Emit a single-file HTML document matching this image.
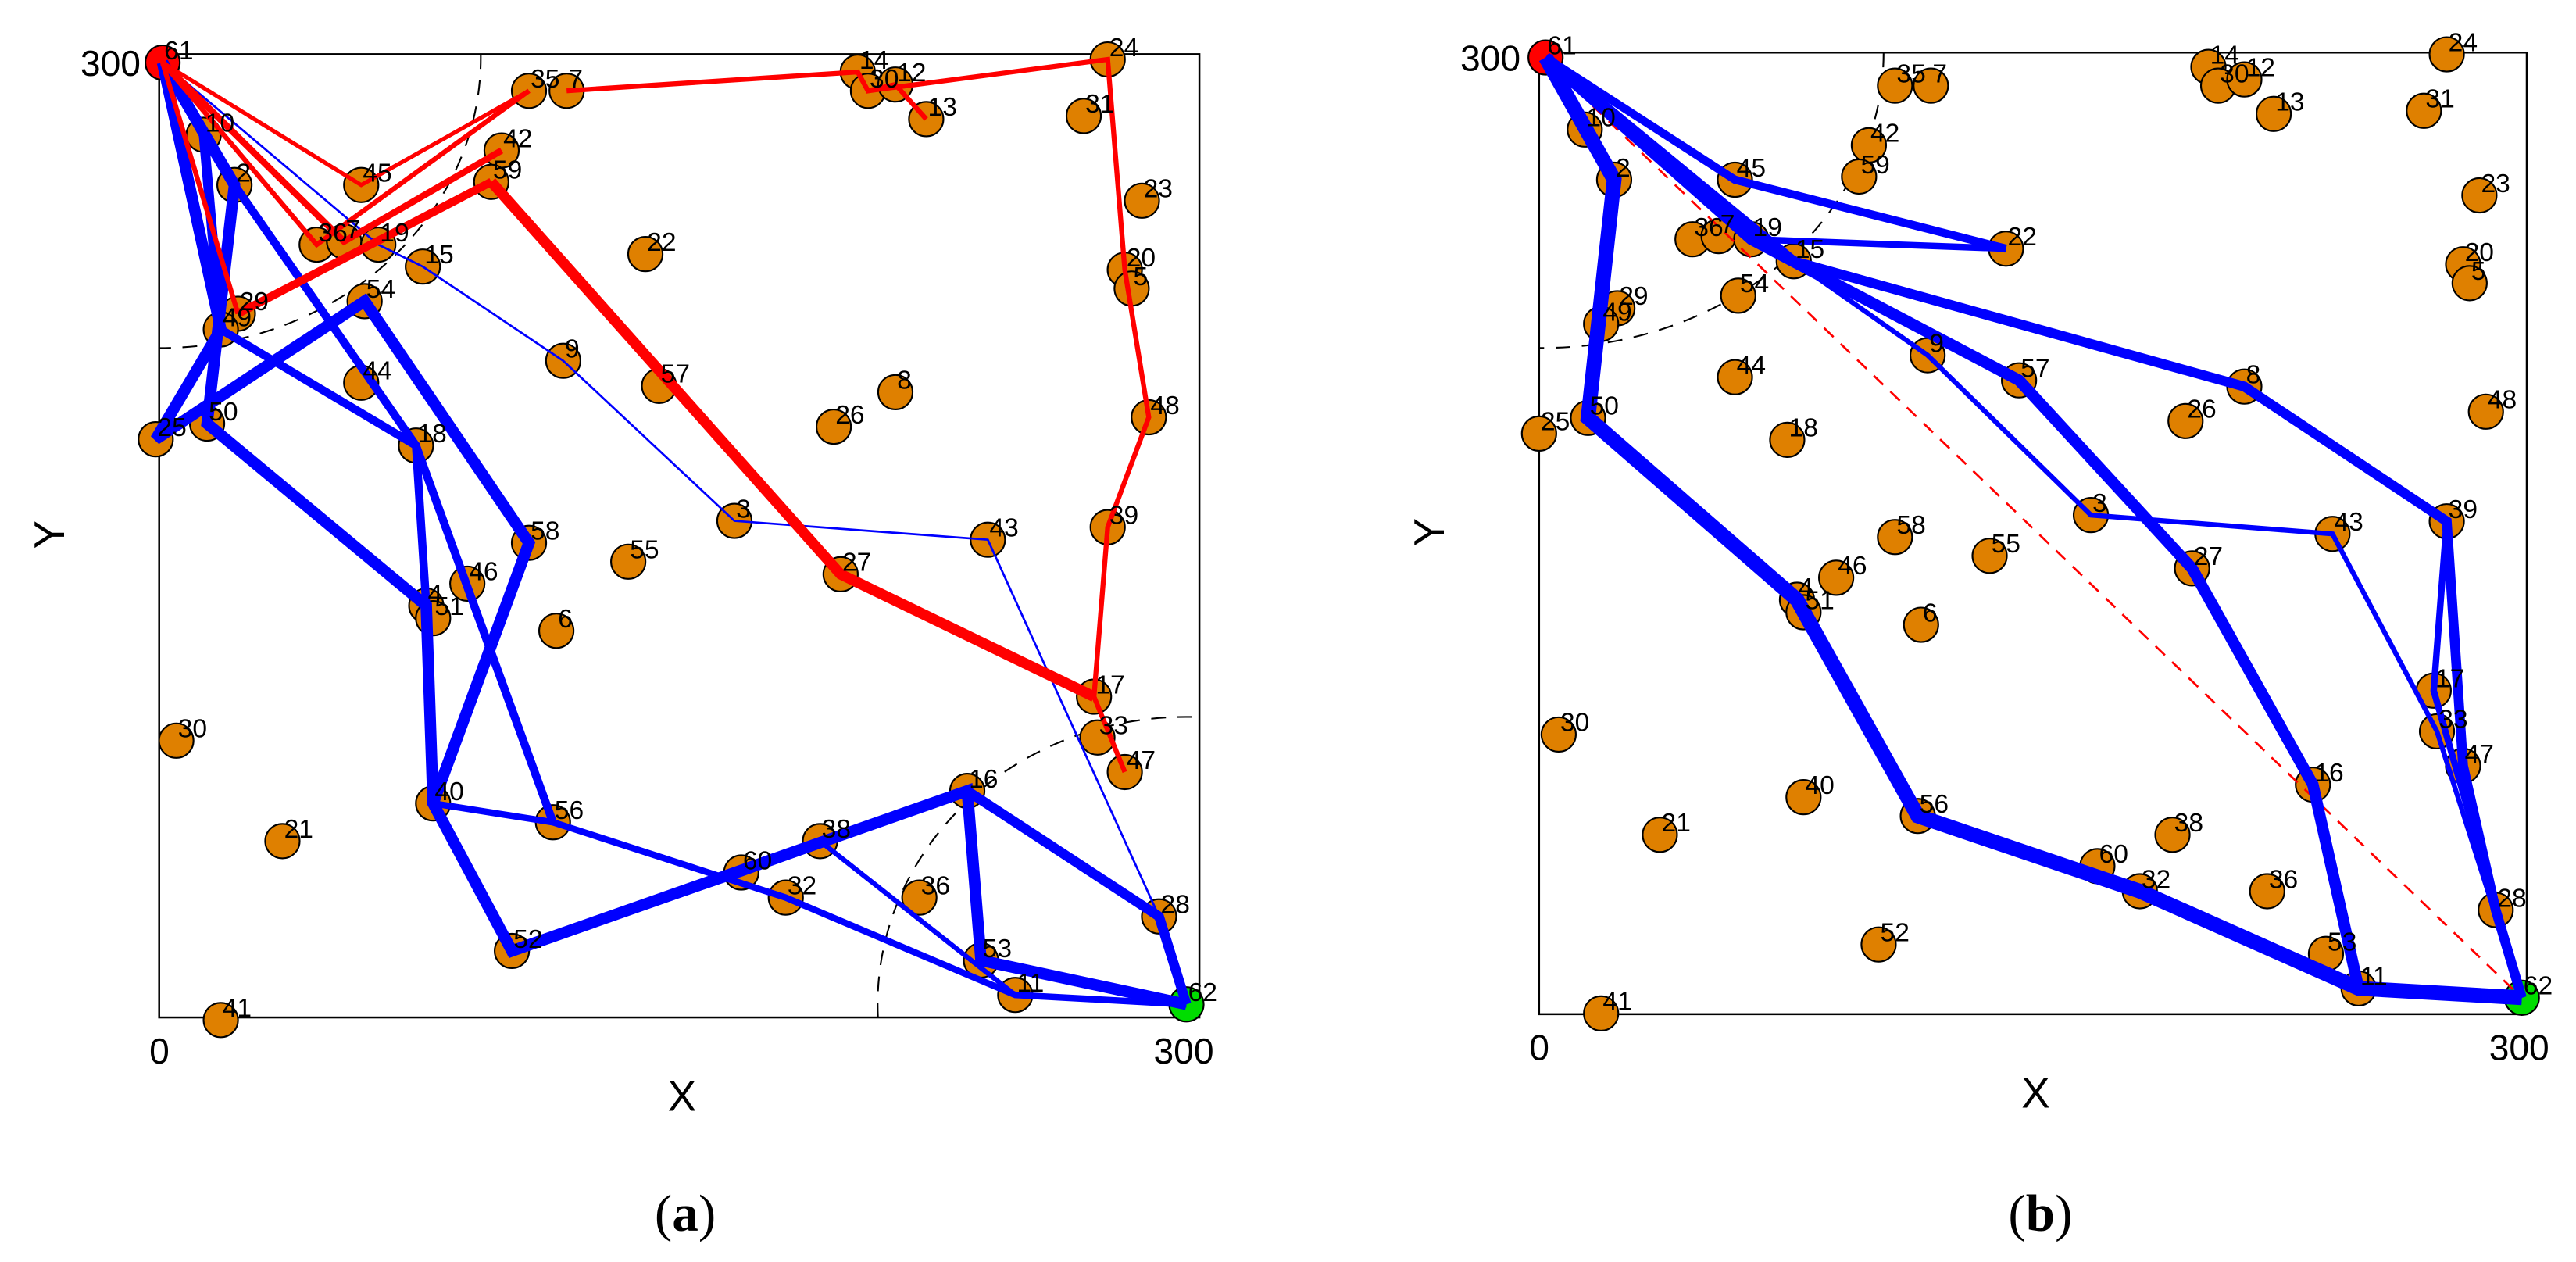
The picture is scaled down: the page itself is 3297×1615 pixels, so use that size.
<!DOCTYPE html>
<html><head><meta charset="utf-8"><style>
html,body{margin:0;padding:0;background:#fff;}
svg{display:block;}
text{font-family:"Liberation Sans",sans-serif;}
text.cap{font-family:"Liberation Serif",serif;}
</style></head><body>
<svg id="chart" width="3297" height="1615" viewBox="0 0 1570 769" xmlns="http://www.w3.org/2000/svg">
<g id="pa"></g>
<g id="pb"></g>
</svg>
<script>
const nodeIds = ["61","24","35","7","14","30","12","13","31","23","42","59","45","20","5","22","10","2","36","7b","19","15","54","29","49","9","44","57","8","26","48","18","25","50","3","43","39","58","55","27","46","4","51","6","17","33","47","30b","40","16","56","38","21","60","32","36b","28","52","53","11","62","41"];
const nodeX = [1,277,108,119,204,207,215,224,270,287,100,97,59,282,284,142,13,22,46,54,64,77,60,23,18,118,59,146,215,197,289,75,-1,14,168,242,277,108,137,199,90,78,80,116,273,274,282,5,80,236,115,193,36,170,183,222,292,103,240,250,300,18];
const nodeY = [300,301,291,291,297,291,293,282,283,256,272,262,261,234,228,239,277,261,242,243,242,235,224,220,215,205,198,197,195,184,187,178,180,185,154,148,152,147,141,137,134,127,123,119,98,85,74,84,64,68,58,52,52,42,34,34,28,17,14,3,0,-5];
const labels = ["61","24","35","7","14","30","12","13","31","23","42","59","45","20","5","22","10","2","36","7","19","15","54","29","49","9","44","57","8","26","48","18","25","50","3","43","39","58","55","27","46","4","51","6","17","33","47","30","40","16","56","38","21","60","32","36","28","52","53","11","62","41"];
// panel a routes
const aRedPaths = [["61","45","35"],["61","36","35"],["61","7b","42"],["61","29"],["29","59"],["59","27","17"],["7","14","30","12","13"],["30","24","20","48","39","17","47"]];
const aRedW = [2.5,3,4,3,5,6.5,3,3];
const aBluePaths = [["61","19","15","9","3","43","28"],["61","49","25","54","58","40","52","16","53","62"],["16","28","62"],["61","2","50","4","40"],["40","56","32","11","62"],["2","18","56"],["49","18","4"],["61","10","49"],["38","11"],["52","60","16"]];
const aBlueW = [1.3,7,6,7,4,5,5,6,3,5];
// panel b routes
const bBluePaths = [["61","45","22"],["61","19","22"],["61","2","50","4","56","32","11","62"],["61","19","57","27","16","11","62"],["61","15","8","39","47","28","62"],["15","9","3","43","33","62"],["39","17","62"]];
const bBlueW = [5,4,9,7,6,3,4];

const NS="http://www.w3.org/2000/svg";
function mk(p,tag,attrs){const e=document.createElementNS(NS,tag);for(const k in attrs)e.setAttribute(k,attrs[k]);p.appendChild(e);return e;}
function idx(id){return nodeIds.indexOf(id);}
function panel(g,ox,oy,sx,sy,box,redPaths,redW,bluePaths,blueW,dashed,ticks){
  const X=v=>ox+v*sx, Y=v=>oy-v*sy;
  const b=mk(g,'rect',{x:box[0],y:box[1],width:box[2]-box[0],height:box[3]-box[1],fill:'none',stroke:'#000','stroke-width':1.2});
  
  
  const a1=mk(g,'path',{d:`M${X(0)+dashed[0]} ${box[1]} A${dashed[0]} ${dashed[1]} 0 0 1 ${box[0]} ${Y(300)+dashed[1]-3}`,fill:'none',stroke:'#000','stroke-width':1,'stroke-dasharray':'9 7'});
  
  
  if(dashed[2]){const a2=mk(g,'path',{d:`M${X(300)-dashed[2]} ${box[3]} A${dashed[2]} ${dashed[3]} 0 0 1 ${box[2]} ${Y(0)-dashed[3]}`,fill:'none',stroke:'#000','stroke-width':1,'stroke-dasharray':'9 7'});
    
    }
  const ng=mk(g,'g',{});
  nodeIds.forEach((id,i)=>{
    const fill=id==="61"?'#ff0000':id==="62"?'#00dd00':'#df8000';
    const c=mk(ng,'circle',{cx:X(nodeX[i]),cy:Y(nodeY[i]),r:10.5,fill:fill,stroke:'#000','stroke-width':1});
    
    
  });
  if(!redPaths){const d=mk(g,'line',{x1:X(0),y1:Y(300),x2:X(300),y2:Y(0),stroke:'#ff0000','stroke-width':1.3,'stroke-dasharray':'8 6'});
    
    }
  function draw(paths,ws,col,nm){paths.forEach((p,k)=>{
    const pts=p.map(id=>{const i=idx(id);return X(nodeX[i])+','+Y(nodeY[i]);}).join(' ');
    const l=mk(g,'polyline',{points:pts,fill:'none',stroke:col,'stroke-width':ws[k],'stroke-linejoin':'miter','stroke-linecap':'butt'});
    
    
  });}
  draw(bluePaths,blueW,'#0000ff','blue');
  if(redPaths)draw(redPaths,redW,'#ff0000','red');
  nodeIds.forEach((id,i)=>{
    const t=mk(g,'text',{x:X(nodeX[i])+1,y:Y(nodeY[i])-2,'font-size':16,fill:'#000'});
    t.textContent=labels[i];
    
    
  });
  const tk=[["300",box[0]-48,Y(300)+8,22],["0",box[0]-6,box[3]+28,22],["300",X(300)-20,box[3]+28,22]];
  tk.forEach(t=>{const e=mk(g,'text',{x:t[1],y:t[2],'font-size':t[3]});e.textContent=t[0];
    
    });
  const xt=mk(g,'text',{x:(box[0]+box[2])/2-7,y:box[3]+57,'font-size':26});xt.textContent='X';
  
  
  const yt=mk(g,'text',{x:0,y:0,'font-size':26,transform:`translate(${box[0]-58},${(box[1]+box[3])/2+8}) rotate(-90)`});yt.textContent='Y';
  
  
  const cp=mk(g,'text',{x:(box[0]+box[2])/2-15,y:750,'font-size':32,'class':'cap'});
  cp.innerHTML='(<tspan font-weight="bold">'+ticks+'</tspan>)';
  
  
}
panel(document.getElementById('pa'),97,612,2.087,1.913,[97,33,731,620],aRedPaths,aRedW,aBluePaths,aBlueW,[196,177,188,175],'a');
panel(document.getElementById('pb'),940,608,1.99,1.91,[938,32,1540,618],null,null,bBluePaths,bBlueW,[208,180,0,0],'b');
</script>
</body></html>
